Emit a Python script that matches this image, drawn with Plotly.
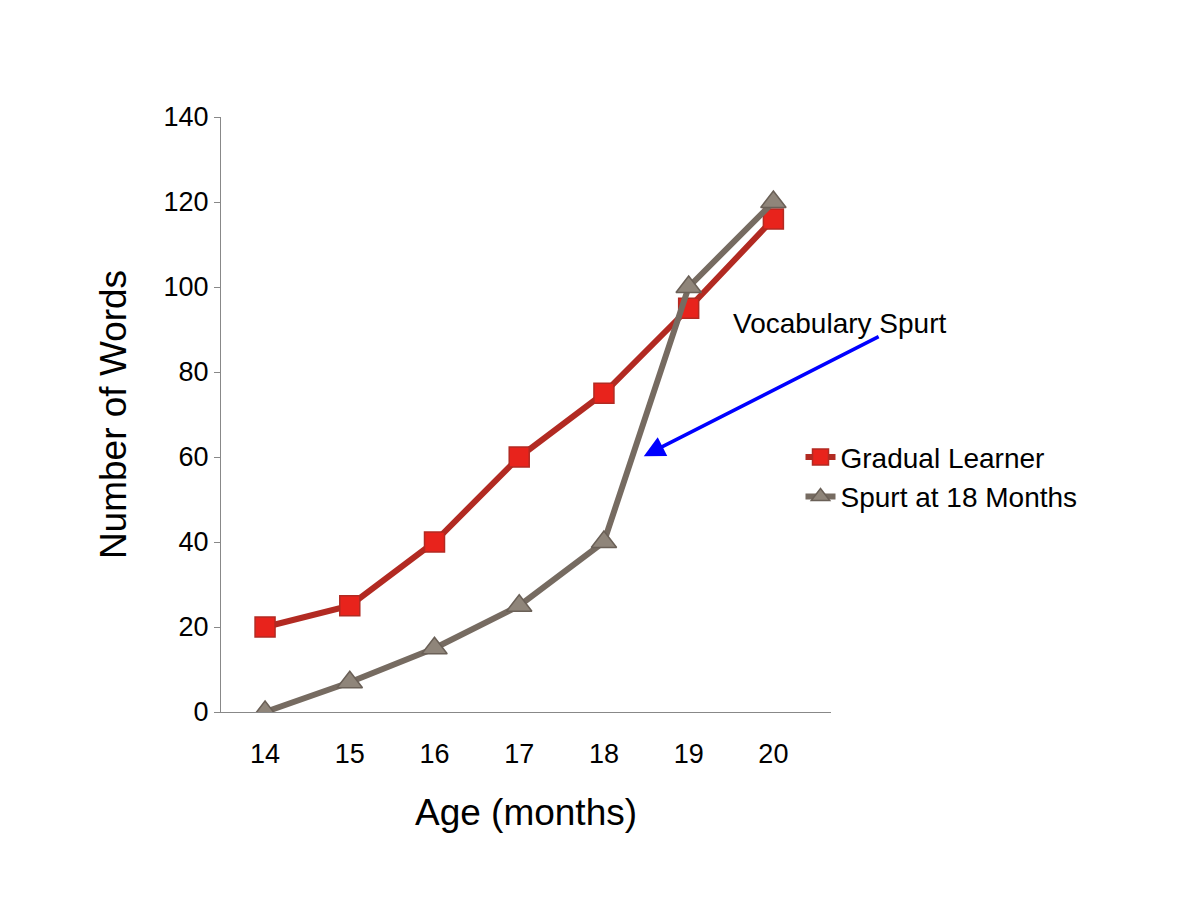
import plotly.graph_objects as go

ages = ["14", "15", "16", "17", "18", "19", "20"]
gradual = [20, 25, 40, 60, 75, 95, 116]
spurt = [0, 7, 15, 25, 40, 100, 120]

fig = go.Figure()
fig.add_trace(go.Scatter(x=ages, y=gradual, name="Gradual Learner", mode="lines+markers",
                         line=dict(color="#b22a22", width=6),
                         marker=dict(symbol="square", size=20, color="#e8231c",
                                     line=dict(color="#b22a22", width=1.5))))
fig.add_trace(go.Scatter(x=ages, y=spurt, name="Spurt at 18 Months", mode="lines+markers",
                         line=dict(color="#766b61", width=6),
                         marker=dict(symbol="triangle-up", size=22, color="#8f857a",
                                     line=dict(color="#6a6057", width=1.5))))

fig.add_annotation(x=4.47, y=60.2, ax=7.26, ay=88.5, xref="x", yref="y", axref="x", ayref="y",
                   showarrow=True, arrowhead=2, arrowsize=1.2, arrowwidth=3.5, arrowcolor="#0000ff", text="")
fig.add_annotation(x=1.192, y=0.682, xref="paper", yref="paper", text="Vocabulary Spurt", showarrow=False,
                   font=dict(size=28, color="black"))

fig.update_layout(
    width=1200, height=900, plot_bgcolor="white", paper_bgcolor="white",
    margin=dict(l=213, r=377, t=109, b=196),
    font=dict(family="Liberation Sans, Arial", color="black"),
    legend=dict(x=0.95, y=0.47, xanchor="left", yanchor="top", font=dict(size=28),
                bgcolor="rgba(0,0,0,0)", tracegroupgap=35, itemwidth=30),
    xaxis=dict(type="category", range=[-0.52, 6.68], showline=True, linecolor="#888", linewidth=1,
               ticks="", tickfont=dict(size=27), ticklabelstandoff=18, showgrid=False, automargin=False,
               title=dict(text="Age (months)", font=dict(size=37), standoff=30)),
    yaxis=dict(range=[0, 140], dtick=20, showline=True, linecolor="#888", linewidth=1,
               ticks="outside", ticklen=6, tickcolor="#888", tickfont=dict(size=27),
               showgrid=False, zeroline=False, automargin=False,
               title=dict(text="Number of Words", font=dict(size=37), standoff=25)),
)
fig.write_html("out.html")
